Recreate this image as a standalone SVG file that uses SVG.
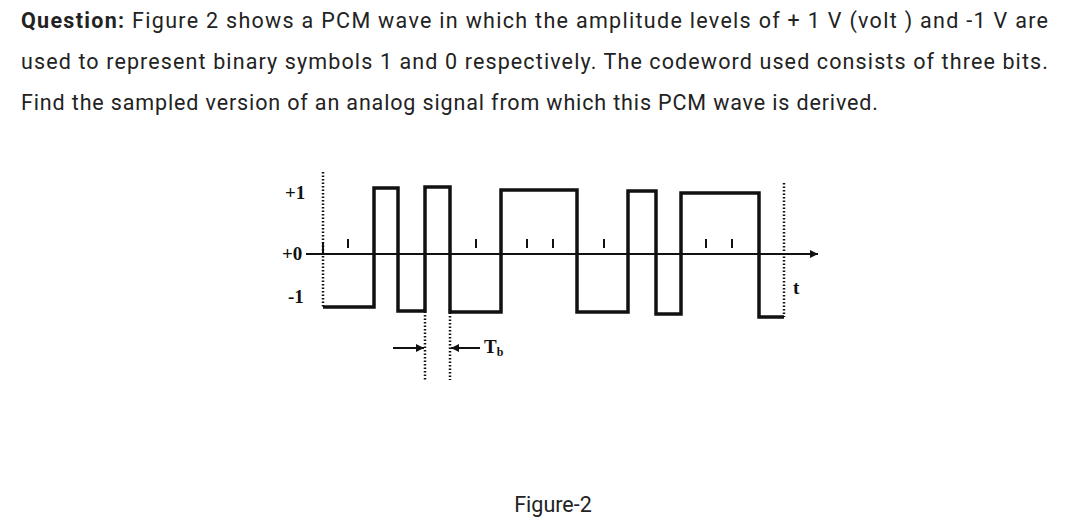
<svg xmlns="http://www.w3.org/2000/svg" width="1080" height="525" viewBox="0 0 1080 525">
<defs>
<style>
.q{font-family:Roboto,"Liberation Sans",sans-serif;font-size:21.5px;fill:#222}
.l{font-family:"Liberation Serif",serif;font-weight:bold;font-size:19px;fill:#111}
.w{fill:none;stroke:#111;stroke-width:3.5}
.d{stroke:#111;stroke-width:2.5;stroke-dasharray:1.5 2}
.t{stroke:#111;stroke-width:2}
</style>
<marker id="ah" viewBox="0 0 10 10" refX="10" refY="5" markerWidth="4" markerHeight="4" orient="auto"><path d="M0,0L10,5L0,10z" fill="#111"/></marker>
</defs>
<rect width="1080" height="525" fill="#fff"/>
<g id="question">
<text class="q" x="21" y="28" textLength="1027" lengthAdjust="spacing"><tspan font-weight="bold">Question:</tspan> Figure 2 shows a PCM wave in which the amplitude levels of + 1 V (volt ) and -1 V are</text>
<text class="q" x="21" y="69" textLength="1027" lengthAdjust="spacing">used to represent binary symbols 1 and 0 respectively. The codeword used consists of three bits.</text>
<text class="q" x="21" y="110" textLength="857" lengthAdjust="spacing">Find the sampled version of an analog signal from which this PCM wave is derived.</text>
</g>
<g id="labels">
<text class="l" x="285" y="199">+1</text>
<text class="l" x="282" y="260">+0</text>
<text class="l" x="288" y="303">-1</text>
<text class="l" x="793" y="294">t</text>
<text class="l" x="484" y="353">T<tspan font-size="12" dy="3">b</tspan></text>
<text class="q" x="553" y="512" text-anchor="middle">Figure-2</text>
</g>
<g id="connectors">
<line class="t" x1="306" y1="254" x2="818" y2="254" marker-end="url(#ah)" stroke-width="2.5"/>
<path class="t" d="M348,239V248M476,239V248M527,239V248M553,239V248M604,239V248M706,239V248M732,239V248M323,243V254"/>
<line class="d" x1="323" y1="172" x2="323" y2="307"/>
<line class="d" x1="784" y1="183" x2="784" y2="317"/>
<line class="d" x1="425" y1="308" x2="425" y2="380"/>
<line class="d" x1="450" y1="309" x2="450" y2="380"/>
<line class="t" x1="393" y1="348" x2="424" y2="348" marker-end="url(#ah)"/>
<line class="t" x1="480" y1="348" x2="451" y2="348" marker-end="url(#ah)"/>
</g>
<g id="wave">
<path class="w" d="M323,307H374V188H398V311H425V187H450V312H501V190H577V312H628V191H656V314H681V193H759V317H784"/>
</g>
</svg>
